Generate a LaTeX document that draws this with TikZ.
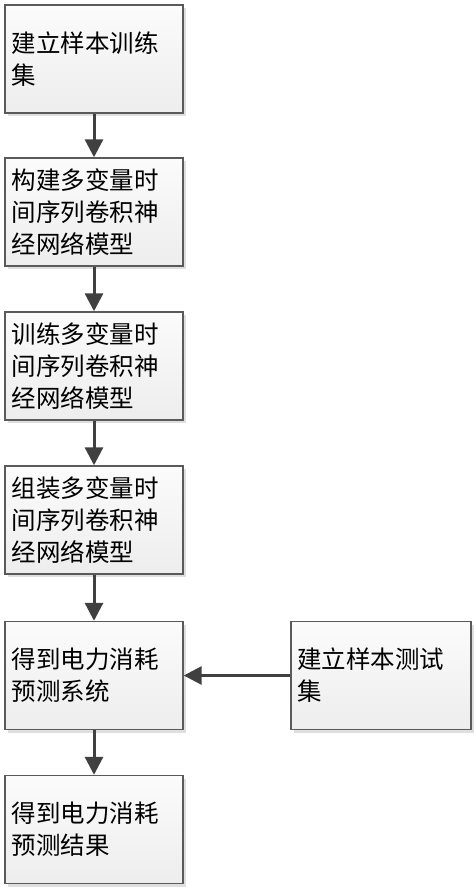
\documentclass[tikz,border=0pt]{standalone}
\usepackage{fontspec}
\newfontfamily\cjk{Noto Sans CJK SC}
\usetikzlibrary{arrows.meta,shadows}
\definecolor{boxline}{HTML}{5A5A5A}
\definecolor{arrowc}{HTML}{404040}
\tikzset{
  stepbox/.style={draw=boxline, line width=1.4pt, rectangle,
    top color=gray!3, bottom color=gray!14,
    minimum width=178pt, minimum height=108pt,
    text width=164pt, inner xsep=7pt, align=left,
    font=\cjk\fontsize{24.5}{32}\selectfont,
    drop shadow={opacity=0.25, shadow xshift=3pt, shadow yshift=-3pt}},
  flow/.style={draw=arrowc, line width=3pt,
    -{Triangle[length=18pt,width=18pt]}}
}
\begin{document}
\begin{tikzpicture}[x=1pt,y=-1pt]
\useasboundingbox (0,0) rectangle (474,889);
\node[stepbox] (a) at (94,59) {建立样本训练\\集};
\node[stepbox] (b) at (94,212) {构建多变量时\\间序列卷积神\\经网络模型};
\node[stepbox] (c) at (94,366) {训练多变量时\\间序列卷积神\\经网络模型};
\node[stepbox] (d) at (94,520) {组装多变量时\\间序列卷积神\\经网络模型};
\node[stepbox] (e) at (94,675.5) {得到电力消耗\\预测系统};
\node[stepbox] (f) at (94,829.5) {得到电力消耗\\预测结果};
\node[stepbox, minimum width=180pt, text width=168pt, inner xsep=6pt] (t) at (381,675.5) {建立样本测试\\集};
\draw[flow] (a) -- (b);
\draw[flow] (b) -- (c);
\draw[flow] (c) -- (d);
\draw[flow] (d) -- (e);
\draw[flow] (e) -- (f);
\draw[flow] (t) -- (e);
\end{tikzpicture}
\end{document}
